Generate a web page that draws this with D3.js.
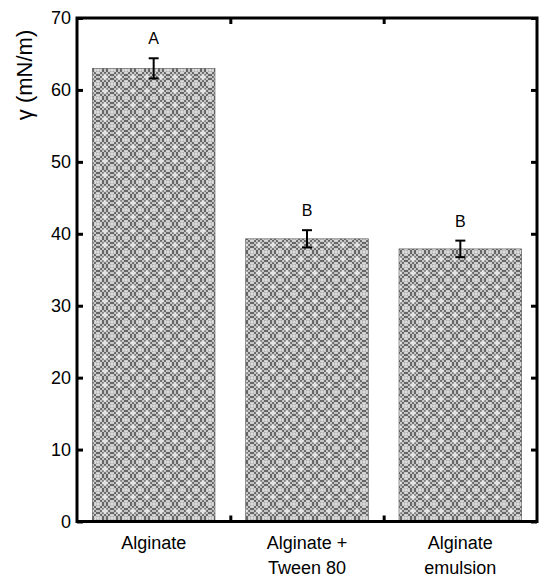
<!DOCTYPE html>
<html>
<head>
<meta charset="utf-8">
<script src="https://cdn.jsdelivr.net/npm/d3@7"></script>
<style>
  body { margin: 0; background: #fff; }
  svg { display: block; font-family: "Liberation Sans", Arial, sans-serif; }
</style>
</head>
<body>
<div id="chart"></div>
<script>
// data
var categories = [["Alginate"], ["Alginate +", "Tween 80"], ["Alginate", "emulsion"]];
var values = [63.0, 39.3, 37.9];
var errors = [1.4, 1.2, 1.15];
var letters = ["A", "B", "B"];
var yTicks = [0, 10, 20, 30, 40, 50, 60, 70];

var width = 550, height = 579;
var margin = { top: 18, right: 10, bottom: 57, left: 77 };

var svg = d3.select("#chart").append("svg")
    .attr("width", width)
    .attr("height", height);

// checker / diamond fill like the original
var defs = svg.append("defs");
var grad = defs.append("radialGradient").attr("id", "spot");
grad.append("stop").attr("offset", "0%").attr("stop-color", "#fff").attr("stop-opacity", 0.95);
grad.append("stop").attr("offset", "100%").attr("stop-color", "#fff").attr("stop-opacity", 0);

var tile = 14;
var pat = defs.append("pattern")
    .attr("id", "checker")
    .attr("patternUnits", "userSpaceOnUse")
    .attr("width", tile).attr("height", tile);
pat.append("rect").attr("width", tile).attr("height", tile).attr("fill", "#c4c4c4");
for (var i = 0; i < tile; i += 2) {
    for (var j = 0; j < tile; j += 2) {
        if (((i + j) / 2) % 2 === 0) {
            pat.append("rect").attr("x", i).attr("y", j).attr("width", 2).attr("height", 2).attr("fill", "#666");
        }
    }
}
[[0, 0], [tile, 0], [0, tile], [tile, tile], [tile / 2, tile / 2]].forEach(function (p) {
    pat.append("circle").attr("cx", p[0]).attr("cy", p[1]).attr("r", tile * 0.3).attr("fill", "url(#spot)");
});

var x = d3.scaleLinear()
    .domain([0.5, 3.5])
    .range([margin.left, width - margin.right - 3]);

var y = d3.scaleLinear()
    .domain([0, 70])
    .range([height - margin.bottom - 0.5, margin.top]);

var x0 = x.range()[0], x1 = x.range()[1];
var y0 = y.range()[0], y1 = y.range()[1];
var barW = x(1.4) - x(0.6);

// bars
svg.selectAll("rect.bar")
    .data(values)
    .enter()
    .append("rect")
    .attr("class", "bar")
    .attr("x", function (d, i) { return x(i + 1) - barW / 2; })
    .attr("y", function (d) { return y(d); })
    .attr("width", barW)
    .attr("height", function (d) { return y0 - y(d); })
    .attr("fill", "url(#checker)")
    .attr("stroke", "#555")
    .attr("stroke-width", 0.6);

// error bars
var eb = svg.selectAll("g.err")
    .data(values)
    .enter()
    .append("g")
    .attr("class", "err")
    .attr("stroke", "#000")
    .attr("stroke-width", 2);
eb.append("line")
    .attr("x1", function (d, i) { return x(i + 1); })
    .attr("x2", function (d, i) { return x(i + 1); })
    .attr("y1", function (d, i) { return y(d - errors[i]); })
    .attr("y2", function (d, i) { return y(d + errors[i]); });
[-1, 1].forEach(function (s) {
    eb.append("line")
        .attr("x1", function (d, i) { return x(i + 1) - 5; })
        .attr("x2", function (d, i) { return x(i + 1) + 5; })
        .attr("y1", function (d, i) { return y(d + s * errors[i]); })
        .attr("y2", function (d, i) { return y(d + s * errors[i]); });
});

// significance letters
svg.selectAll("text.letter")
    .data(letters)
    .enter()
    .append("text")
    .attr("class", "letter")
    .attr("x", function (d, i) { return x(i + 1); })
    .attr("y", function (d, i) { return y(values[i] + errors[i]) - 14; })
    .attr("text-anchor", "middle")
    .attr("font-size", 16)
    .text(function (d) { return d; });

// axes
var sepTicks = [1.5, 2.5];

svg.append("g")
    .attr("transform", "translate(" + x0 + ",0)")
    .call(d3.axisRight(y).tickValues(yTicks).tickSize(6).tickFormat(""))
    .call(function (g) { g.select(".domain").remove(); })
    .selectAll("line").attr("stroke-width", 3);

svg.append("g")
    .attr("transform", "translate(" + x1 + ",0)")
    .call(d3.axisLeft(y).tickValues(yTicks).tickSize(6).tickFormat(""))
    .call(function (g) { g.select(".domain").remove(); })
    .selectAll("line").attr("stroke-width", 3);

svg.append("g")
    .attr("transform", "translate(0," + y0 + ")")
    .call(d3.axisTop(x).tickValues(sepTicks).tickSize(6).tickFormat(""))
    .call(function (g) { g.select(".domain").remove(); })
    .selectAll("line").attr("stroke-width", 3);

svg.append("g")
    .attr("transform", "translate(0," + y1 + ")")
    .call(d3.axisBottom(x).tickValues(sepTicks).tickSize(6).tickFormat(""))
    .call(function (g) { g.select(".domain").remove(); })
    .selectAll("line").attr("stroke-width", 3);

// frame
svg.append("rect")
    .attr("x", x0).attr("y", y1)
    .attr("width", x1 - x0).attr("height", y0 - y1)
    .attr("fill", "none")
    .attr("stroke", "#000")
    .attr("stroke-width", 3);

// y tick labels
svg.selectAll("text.ytick")
    .data(yTicks)
    .enter()
    .append("text")
    .attr("class", "ytick")
    .attr("x", x0 - 6)
    .attr("y", function (d) { return y(d); })
    .attr("dy", "0.35em")
    .attr("text-anchor", "end")
    .attr("font-size", 18)
    .text(function (d) { return d; });

// category labels
var cat = svg.selectAll("text.cat")
    .data(categories)
    .enter()
    .append("text")
    .attr("class", "cat")
    .attr("text-anchor", "middle")
    .attr("font-size", 18)
    .attr("transform", function (d, i) { return "translate(" + x(i + 1) + "," + (y0 + 27) + ")"; });
cat.selectAll("tspan")
    .data(function (d) { return d; })
    .enter()
    .append("tspan")
    .attr("x", 0)
    .attr("dy", function (d, k) { return k === 0 ? 0 : 25; })
    .text(function (d) { return d; });

// y axis title
svg.append("text")
    .attr("transform", "translate(32," + (y1 + 57) + ") rotate(-90)")
    .attr("text-anchor", "middle")
    .attr("font-size", 22)
    .text("γ (mN/m)");
</script>
</body>
</html>
